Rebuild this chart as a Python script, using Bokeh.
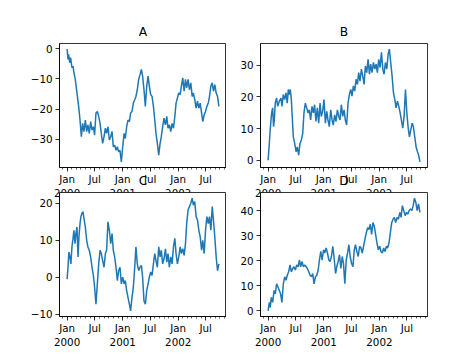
import pandas as pd
from bokeh.plotting import figure
from bokeh.layouts import column, row
from bokeh.models import Range1d, FixedTicker, ColumnDataSource
from bokeh.embed import file_html
from bokeh.resources import INLINE

START = "2000-01-01"

a_days = [0, 6, 10, 17, 23, 32, 39, 45, 54, 65, 76, 85, 94,
          102, 111, 120, 129, 137, 146, 155, 164, 173, 181, 190, 199, 208, 217, 225, 234, 243, 252,
          260, 269, 278, 287, 296, 304, 313, 322, 331, 339, 348, 357, 366, 375, 383, 392, 401, 410,
          418, 427, 436, 445, 453, 462, 471, 480, 489, 497, 506, 515, 524, 533, 541, 550, 559, 568,
          577, 585, 594, 603, 612, 620, 629, 638, 647, 656, 664, 673, 682, 691, 700, 709, 717, 726,
          735, 744, 752, 761, 770, 779, 787, 796, 805, 814, 823, 831, 840, 849, 858, 867, 876, 885,
          893, 902, 911, 920, 929, 937, 946, 955, 963, 972, 981, 990, 999]
a_vals = [-0.2, -3.6, -1.9, -4.7, -3.0, -6.3, -5.8, -8.0, -10.2, -14.7, -19.1, -23.6, -29.1,
          -24.7, -27.4, -23.6, -27.4, -25.2, -28.0, -24.1, -26.9, -25.8, -28.6, -21.3, -20.8, -22.4, -24.7, -28.0, -31.3, -29.1, -26.3,
          -28.0, -25.8, -30.2, -29.1, -27.4, -32.4, -31.9, -33.6, -32.4, -34.1, -33.6, -37.4, -32.4, -28.0, -29.7, -25.8, -23.6, -24.1,
          -21.3, -20.8, -18.0, -16.9, -15.8, -13.6, -10.2, -8.6, -6.9, -9.1, -13.6, -19.1, -12.4, -9.1, -12.4, -15.2, -15.8, -19.1,
          -23.6, -28.0, -31.3, -35.2, -31.3, -29.1, -25.8, -23.0, -25.2, -22.4, -26.3, -25.2, -27.4, -24.7, -26.3, -22.4, -18.0, -16.3,
          -14.7, -15.2, -12.4, -9.7, -14.1, -10.2, -13.0, -10.2, -13.6, -11.3, -15.8, -14.7, -16.9, -19.7, -17.4, -19.7, -18.0, -21.3,
          -24.1, -21.9, -20.8, -19.1, -18.0, -15.8, -12.4, -11.3, -14.1, -11.9, -14.7, -15.8, -19.1]

b_days = [0, 8, 14, 21, 25, 30, 36, 41, 47, 56, 63, 74, 85, 91, 100, 109, 118, 126, 133, 140, 146, 153, 157,
          166, 175, 184, 192, 201, 210, 219, 228, 236, 245, 254, 263, 271, 280, 289, 298, 306, 315, 324, 333,
          342, 350, 359, 368, 377, 386, 394, 403, 412, 421, 429, 438, 447, 456, 465, 473, 482, 491, 500, 508,
          517, 526, 535, 544, 552, 561, 570, 579, 588, 596, 605, 614, 623, 632, 640, 649, 658, 667, 675, 684,
          693, 702, 711, 719, 728, 737, 746, 755, 763, 772, 781, 790, 798, 807, 816, 825, 834, 842, 851, 860,
          869, 877, 886, 895, 904, 913, 921, 930, 939, 948, 956, 965, 974, 983, 991, 999]
b_vals = [0.0, 5.3, 9.6, 13.8, 15.4, 16.5, 10.6, 12.7, 18.0, 19.6, 17.0, 18.6, 19.6, 17.0, 20.7, 19.1, 21.2, 18.0, 22.3, 20.7, 22.3, 19.1, 15.4,
          7.4, 5.3, 2.7, 4.2, 1.6, 5.3, 6.4, 8.5, 14.9, 18.0, 16.5, 14.9, 15.9, 12.7, 17.0, 14.9, 17.5, 12.2, 16.5, 11.7,
          18.0, 13.8, 15.4, 19.1, 11.7, 15.4, 12.7, 10.6, 15.9, 12.7, 11.1, 14.3, 12.2, 15.9, 13.8, 12.7, 17.5, 13.8, 15.9, 12.7,
          11.1, 18.0, 20.7, 22.3, 20.2, 23.4, 21.8, 25.5, 23.9, 27.6, 24.9, 28.7, 26.5, 23.9, 29.7, 27.6, 31.8, 27.1, 30.3, 27.6,
          30.8, 28.7, 30.3, 27.6, 31.8, 29.2, 34.0, 28.7, 27.1, 30.8, 28.7, 33.4, 35.0, 30.8, 26.5, 21.2, 19.1, 16.5, 18.6, 17.0,
          14.9, 12.7, 10.1, 13.8, 22.3, 14.9, 10.6, 7.4, 9.6, 11.7, 10.6, 7.4, 4.2, 2.7, 1.6, -0.5]

c_days = [0, 6, 12, 19, 25, 32, 39, 45, 52, 58, 65, 72, 78, 85, 91, 98, 105, 111,
          120, 129, 137, 146, 155, 164, 173, 181, 190, 199, 208, 217, 225, 234, 243, 252, 260, 269,
          278, 287, 296, 304, 313, 322, 331, 339, 348, 357, 366, 375, 383, 392, 401, 410, 418, 427,
          436, 445, 453, 462, 471, 480, 489, 497, 506, 515, 524, 533, 541, 550, 559, 568, 577, 585,
          594, 603, 612, 620, 629, 638, 647, 656, 664, 673, 682, 691, 700, 709, 717, 726, 735, 744,
          752, 761, 770, 779, 787, 796, 805, 814, 823, 831, 840, 849, 858, 867, 876, 885, 893, 902,
          911, 920, 929, 937, 946, 955, 963, 972, 981, 990, 999]
c_vals = [-0.5, 2.7, 6.8, 5.5, 3.6, 8.2, 10.5, 12.7, 9.1, 11.8, 13.6, 5.5, 10.9, 14.5, 16.4, 17.3, 17.7, 15.9,
          13.6, 10.0, 8.2, 7.3, 5.5, 2.7, 0.5, -2.7, -7.3, -1.8, 3.6, 7.3, 6.4, 4.5, 2.7, 6.4, 7.3, 15.0,
          12.7, 9.1, 11.8, 7.3, 5.5, 2.7, -0.9, 1.8, 2.7, -1.8, 0.0, -1.8, -0.9, -3.6, -5.5, -7.3, -9.1, -5.5,
          -2.7, 2.7, 8.2, 3.6, 1.8, 2.7, 3.2, 0.0, -6.4, -7.3, -3.6, -1.8, 0.0, 1.4, 0.5, 3.6, 6.4, 4.5,
          2.7, 8.2, 5.5, 7.3, 3.6, 5.0, 7.7, 4.1, 6.4, 2.7, 5.5, 3.6, 8.2, 10.5, 6.4, 3.6, 5.5, 8.2,
          6.4, 7.7, 5.9, 9.1, 14.5, 18.2, 19.1, 20.0, 21.4, 19.5, 20.5, 16.4, 15.5, 12.7, 10.9, 7.3, 10.0, 6.4,
          12.7, 16.4, 14.5, 16.4, 12.7, 19.1, 15.5, 10.9, 5.5, 1.8, 3.6]

d_days = [0, 8, 14, 21, 30, 39, 47, 56, 65, 74, 82, 91, 100, 109, 118, 126, 135, 144, 153, 162,
          170, 179, 188, 197, 206, 214, 223, 232, 241, 250, 258, 267, 276, 285, 293, 302, 311, 320, 329, 337,
          346, 355, 364, 372, 381, 390, 399, 407, 416, 425, 434, 443, 451, 460, 469, 478, 487, 495, 504, 513,
          522, 531, 539, 548, 557, 566, 574, 583, 592, 601, 610, 618, 627, 636, 645, 654, 662, 671, 680, 689,
          697, 706, 715, 724, 733, 741, 750, 759, 768, 777, 785, 794, 803, 812, 821, 829, 838, 847, 856, 865,
          873, 882, 891, 900, 909, 917, 926, 935, 944, 953, 961, 970, 979, 988, 997]
d_vals = [0.0, 3.4, 1.4, 5.4, 3.4, 8.1, 6.8, 10.8, 9.5, 8.1, 6.8, 3.4, 10.8, 13.6, 12.2, 14.2, 15.6, 18.3, 15.6, 16.9,
          17.6, 16.3, 18.3, 17.6, 20.3, 17.6, 19.7, 17.6, 18.3, 17.6, 16.9, 15.6, 14.2, 13.6, 14.9, 10.8, 13.6, 14.2, 16.3, 20.3,
          23.7, 20.3, 24.4, 23.1, 25.1, 23.1, 20.3, 19.7, 21.7, 25.8, 21.0, 14.9, 17.6, 19.7, 22.4, 16.9, 21.7, 19.0, 10.8, 20.3,
          23.1, 26.4, 21.7, 19.0, 17.6, 24.4, 26.4, 23.7, 21.7, 25.8, 25.1, 23.1, 25.8, 28.5, 31.2, 33.2, 32.5, 34.6, 30.5, 35.3,
          33.9, 30.5, 27.1, 24.4, 25.8, 23.7, 23.1, 25.1, 23.7, 25.8, 25.1, 27.1, 31.2, 35.3, 36.6, 37.3, 35.3, 37.3, 36.6, 39.3,
          37.3, 42.0, 40.0, 38.0, 39.3, 38.6, 40.0, 40.7, 40.0, 42.0, 45.0, 43.4, 40.0, 42.7, 39.3]

titles = ["A", "B", "C", "D"]
a_yticks = [-30, -20, -10, 0]
b_yticks = [0, 10, 20, 30]
c_yticks = [-10, 0, 10, 20]
d_yticks = [0, 10, 20, 30, 40]

x_major_dates = ["2000-01-01", "2000-07-01", "2001-01-01", "2001-07-01", "2002-01-01", "2002-07-01"]
x_major_labels = ["Jan\n2000", "Jul", "Jan\n2001", "Jul", "Jan\n2002", "Jul"]
x_minor_first, x_minor_last = "1999-12-01", "2002-11-01"

LINE_COLOR = "#1f77b4"
FONT = "DejaVu Sans"


def to_ms(ts):
    return float(pd.Timestamp(ts).value / 1e6)


major_ms = [to_ms(d) for d in x_major_dates]
minor_ms = [to_ms(d) for d in pd.date_range(x_minor_first, x_minor_last, freq="MS")]


def panel(title, days, vals, yticks, width, height, bl, br, bt, bb, transparent=False):
    x = pd.Timestamp(START) + pd.to_timedelta(days, unit="D")
    src = ColumnDataSource(dict(x=x, y=vals))
    xmin, xmax = to_ms(x.min()), to_ms(x.max())
    xpad = 0.05 * (xmax - xmin)
    ymin, ymax = min(vals), max(vals)
    ypad = 0.05 * (ymax - ymin)
    p = figure(width=width, height=height, x_axis_type="datetime",
               x_range=Range1d(xmin - xpad, xmax + xpad),
               y_range=Range1d(ymin - ypad, ymax + ypad),
               output_backend="svg", toolbar_location=None,
               min_border_left=bl, min_border_right=br,
               min_border_top=bt, min_border_bottom=bb)
    p.line("x", "y", source=src, line_color=LINE_COLOR, line_width=1.5)
    p.title.text = title
    p.title.align = "center"
    p.title.text_font = FONT
    p.title.text_font_size = "12.3px"
    p.title.text_font_style = "normal"
    p.title.text_color = "black"
    p.xgrid.visible = False
    p.ygrid.visible = False
    p.outline_line_color = "black"
    p.outline_line_width = 0.8
    p.outline_line_alpha = 1.0
    p.background_fill_color = "white"
    if transparent:
        p.border_fill_alpha = 0.0
    else:
        p.border_fill_color = "white"

    p.xaxis.ticker = FixedTicker(ticks=major_ms, minor_ticks=minor_ms)
    p.xaxis.major_label_overrides = {m: l for m, l in zip(major_ms, x_major_labels)}
    p.yaxis.ticker = FixedTicker(ticks=yticks)
    p.yaxis.major_label_overrides = {t: (str(t).replace("-", "\u2212")) for t in yticks}
    for ax in p.axis:
        ax.major_label_text_font = FONT
        ax.major_label_text_font_size = "10.3px"
        ax.major_label_text_color = "black"
        ax.axis_line_color = "black"
        ax.axis_line_width = 0.8
        ax.major_tick_line_color = "black"
        ax.major_tick_line_width = 0.8
        ax.major_tick_in = 0
        ax.major_tick_out = 4
        ax.minor_tick_in = 0
        ax.minor_tick_out = 2
        ax.minor_tick_line_color = "black"
        ax.minor_tick_line_width = 0.6
    p.yaxis.minor_tick_line_color = None
    p.xaxis.major_label_standoff = 1
    p.yaxis.major_label_standoff = 3
    return p


pA = panel(titles[0], a_days, a_vals, a_yticks, 226, 203, 59, 0, 43, 36)
pB = panel(titles[1], b_days, b_vals, b_yticks, 211, 203, 34, 10, 43, 36)
pC = panel(titles[2], c_days, c_vals, c_yticks, 226, 187, 59, 0, 27, 36, transparent=True)
pD = panel(titles[3], d_days, d_vals, d_yticks, 211, 187, 34, 10, 27, 36, transparent=True)

layout = column(row(pA, pB), row(pC, pD, margin=(-38, 0, 0, 0)))

open("out.html", "w").write(file_html(layout, INLINE))
